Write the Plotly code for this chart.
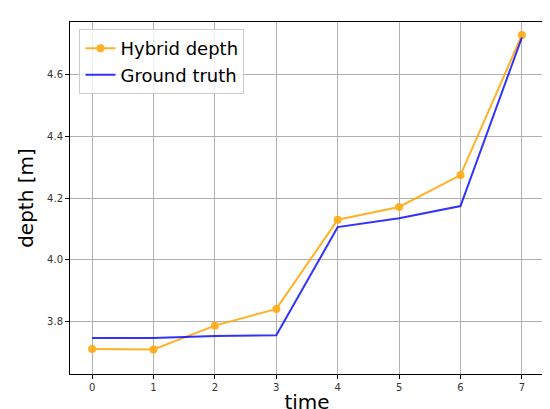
import plotly.graph_objects as go

time = [0, 1, 2, 3, 4, 5, 6, 7]
hybrid = [3.713, 3.711, 3.788, 3.842, 4.130, 4.171, 4.274, 4.726]
truth = [3.748, 3.748, 3.755, 3.757, 4.106, 4.135, 4.174, 4.718]

fig = go.Figure()
fig.add_trace(go.Scatter(x=time, y=hybrid, mode="lines+markers", name="Hybrid depth",
                         line=dict(color="orange", width=2), marker=dict(size=8, color="orange"), opacity=0.85))
fig.add_trace(go.Scatter(x=time, y=truth, mode="lines", name="Ground truth",
                         line=dict(color="blue", width=2), opacity=0.8))
ax = dict(showline=True, mirror=True, linecolor="black", linewidth=1, showgrid=True,
          gridcolor="#b0b0b0", ticks="outside", ticklen=4, tickcolor="black", zeroline=False,
          tickfont=dict(size=10, color="#333"), automargin=False)
fig.update_layout(
    width=550, height=409, paper_bgcolor="white", plot_bgcolor="white",
    margin=dict(l=62, r=14, t=14, b=43),
    font=dict(family="DejaVu Sans", color="black"),
    xaxis=dict(ax, range=[-0.36, 7.36], tickvals=time, title=dict(text="time", font=dict(size=20), standoff=2)),
    yaxis=dict(ax, range=[3.632, 4.768], tickvals=[3.8, 4.0, 4.2, 4.4, 4.6], tickformat=".1f",
               title=dict(text="depth [m]", font=dict(size=20), standoff=8)),
    legend=dict(x=0.02, y=0.98, xanchor="left", yanchor="top", font=dict(size=18, color="black"),
                bordercolor="#ccc", borderwidth=1, bgcolor="rgba(255,255,255,0.8)"),
    showlegend=True,
)
fig.write_html("out.html")
